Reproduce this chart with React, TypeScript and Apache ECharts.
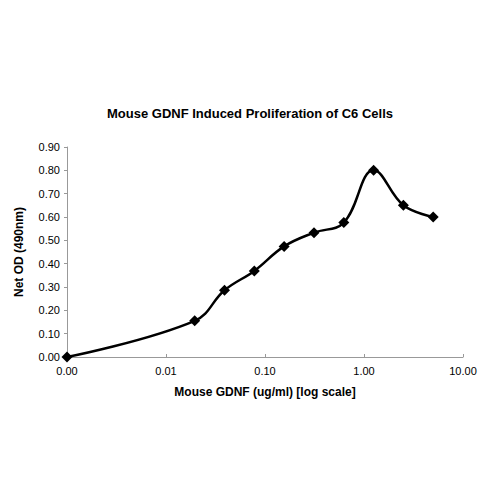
import React, { useEffect, useRef } from 'react';
import * as echarts from 'echarts';

// dose (ug/ml); the first point is the blank, drawn at the axis minimum of the log scale
const doses = [0.001, 0.0195, 0.039, 0.078, 0.156, 0.3125, 0.625, 1.25, 2.5, 5];
const netOD = [0, 0.155, 0.286, 0.369, 0.474, 0.533, 0.576, 0.8, 0.65, 0.6];

const FONT = '"Liberation Sans", Arial, sans-serif';

const App: React.FC = () => {
  const chartRef = useRef<HTMLDivElement>(null);

  useEffect(() => {
    if (!chartRef.current) return;
    const chart = echarts.init(chartRef.current, undefined, { renderer: 'svg' });

    const option: echarts.EChartsOption = {
      animation: false,
      title: {
        text: 'Mouse GDNF Induced Proliferation of C6 Cells',
        left: 'center',
        top: 102,
        textStyle: { fontFamily: FONT, fontSize: 13, fontWeight: 'bold', color: '#000' },
      },
      grid: { left: 67, right: 37, top: 147, bottom: 143 },
      xAxis: {
        type: 'log',
        logBase: 10,
        min: 0.001,
        max: 10,
        name: 'Mouse GDNF (ug/ml) [log scale]',
        nameLocation: 'middle',
        nameGap: 29,
        nameTextStyle: { fontFamily: FONT, fontSize: 12, fontWeight: 'bold', color: '#000' },
        axisLine: { lineStyle: { color: '#999', width: 1 } },
        axisTick: { inside: true, length: 3, lineStyle: { color: '#999' } },
        splitLine: { show: false },
        axisLabel: {
          fontFamily: FONT,
          fontSize: 11,
          color: '#000',
          margin: 8,
          formatter: (v: number) => v.toFixed(2),
        },
      },
      yAxis: {
        type: 'value',
        min: 0,
        max: 0.9,
        interval: 0.1,
        name: 'Net OD (490nm)',
        nameLocation: 'middle',
        nameGap: 42,
        nameTextStyle: { fontFamily: FONT, fontSize: 12, fontWeight: 'bold', color: '#000' },
        axisLine: { show: true, lineStyle: { color: '#999', width: 1 } },
        axisTick: { show: true, length: 3, lineStyle: { color: '#999' } },
        splitLine: { show: false },
        axisLabel: {
          fontFamily: FONT,
          fontSize: 11,
          color: '#000',
          margin: 7,
          formatter: (v: number) => v.toFixed(2),
        },
      },
      series: [
        {
          type: 'line',
          data: doses.map((d, i) => [d, netOD[i]]),
          smooth: 0.4,
          symbol: 'diamond',
          symbolSize: 11,
          itemStyle: { color: '#000' },
          lineStyle: { color: '#000', width: 2.5 },
        },
      ],
    };
    chart.setOption(option);

    return () => {
      chart.dispose();
    };
  }, []);

  return <div ref={chartRef} style={{ width: 500, height: 500, margin: -8 }} />;
};

export default App;
